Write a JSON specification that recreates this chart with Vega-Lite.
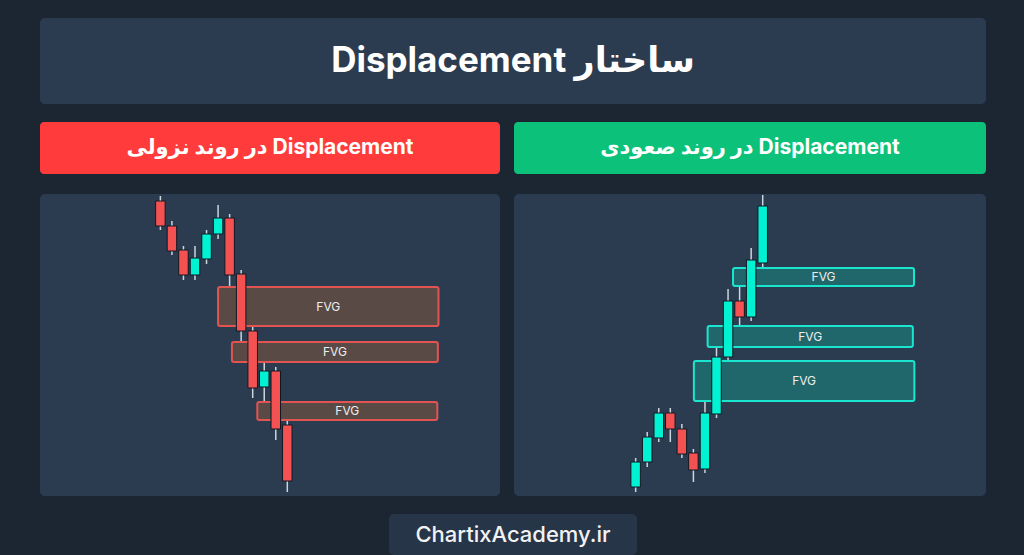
{
  "$schema": "https://vega.github.io/schema/vega-lite/v6.json",
  "background": "#1c2633",
  "padding": {"left": 40, "top": 18, "right": 38, "bottom": 0},
  "config": {
    "view": {"stroke": null, "fill": "#2b3c51", "cornerRadius": 5},
    "concat": {"spacing": 18}
  },
  "datasets": {
    "candlesL": [
      {"t": 0, "o": 295, "c": 270, "h": 300, "l": 266},
      {"t": 1, "o": 270, "c": 245, "h": 275, "l": 241},
      {"t": 2, "o": 246, "c": 221, "h": 250, "l": 216},
      {"t": 3, "o": 221, "c": 238, "h": 250, "l": 216},
      {"t": 4, "o": 237, "c": 262, "h": 266, "l": 232},
      {"t": 5, "o": 262, "c": 278, "h": 291, "l": 257},
      {"t": 6, "o": 278, "c": 221, "h": 282, "l": 209},
      {"t": 7, "o": 222, "c": 165, "h": 226, "l": 154},
      {"t": 8, "o": 165, "c": 108, "h": 169, "l": 98},
      {"t": 9, "o": 109, "c": 125, "h": 134, "l": 94},
      {"t": 10, "o": 125, "c": 67, "h": 129, "l": 56},
      {"t": 11, "o": 71, "c": 15, "h": 75, "l": 4}
    ],
    "fvgL": [
      {"start": 5.0, "end": 24.1, "top": 209, "bottom": 170, "label": "FVG"},
      {"start": 6.2, "end": 24.05, "top": 154, "bottom": 134, "label": "FVG"},
      {"start": 8.4, "end": 24.0, "top": 94, "bottom": 76, "label": "FVG"}
    ],
    "candlesR": [
      {"t": 0, "o": 9, "c": 34, "h": 38, "l": 4},
      {"t": 1, "o": 34, "c": 59, "h": 64, "l": 29},
      {"t": 2, "o": 58, "c": 83, "h": 88, "l": 54},
      {"t": 3, "o": 83, "c": 67, "h": 88, "l": 54},
      {"t": 4, "o": 67, "c": 42, "h": 72, "l": 38},
      {"t": 5, "o": 43, "c": 26, "h": 47, "l": 14},
      {"t": 6, "o": 27, "c": 83, "h": 95, "l": 23},
      {"t": 7, "o": 82, "c": 139, "h": 150, "l": 78},
      {"t": 8, "o": 139, "c": 195, "h": 207, "l": 135},
      {"t": 9, "o": 195, "c": 179, "h": 210, "l": 171},
      {"t": 10, "o": 179, "c": 236, "h": 248, "l": 175},
      {"t": 11, "o": 233, "c": 290, "h": 301, "l": 229}
    ],
    "fvgR": [
      {"start": 8.43, "end": 24.1, "top": 228, "bottom": 210, "label": "FVG"},
      {"start": 6.23, "end": 24.0, "top": 170, "bottom": 149, "label": "FVG"},
      {"start": 5.04, "end": 24.13, "top": 135, "bottom": 95, "label": "FVG"}
    ]
  },
  "center": true,
  "vconcat": [
    {
      "width": 946,
      "height": 86,
      "view": {"fill": "#2b3c51", "stroke": null, "cornerRadius": 5},
      "data": {"values": [{"text": "Displacement ساختار"}]},
      "mark": {"type": "text", "fontSize": 35, "fontWeight": "bold", "color": "#ffffff", "font": "Inter, DejaVu Sans", "letterSpacing": 0.5},
      "encoding": {"text": {"field": "text"}}
    },
    {
      "spacing": 14,
      "hconcat": [
        {
          "spacing": 20,
          "vconcat": [
            {
              "width": 460,
              "height": 52,
              "view": {"fill": "#ff3b3b", "stroke": null, "cornerRadius": 4},
              "data": {"values": [{"text": "در روند نزولی Displacement"}]},
              "mark": {"type": "text", "fontSize": 21, "fontWeight": "bold", "color": "#ffffff", "font": "Inter, DejaVu Sans", "letterSpacing": 0.4},
              "encoding": {"text": {"field": "text"}}
            },
            {
              "width": 460,
              "height": 302,
              "layer": [
                {
                  "data": {"name": "candlesL"},
                  "mark": {"type": "rule", "color": "#cdd5dd", "strokeWidth": 1.5},
                  "encoding": {
                    "x": {"field": "t", "type": "quantitative", "scale": {"domain": [-10, 29], "nice": false, "zero": false}, "axis": null},
                    "y": {"field": "l", "type": "quantitative", "scale": {"domain": [0, 302], "nice": false, "zero": false}, "axis": null},
                    "y2": {"field": "h"}
                  }
                },
                {
                  "data": {"name": "fvgL"},
                  "mark": {"type": "rect", "fill": "#5a4a46", "stroke": "#e25452", "strokeWidth": 2, "cornerRadius": 2},
                  "encoding": {
                    "x": {"field": "start", "type": "quantitative", "axis": null},
                    "x2": {"field": "end"},
                    "y": {"field": "top", "type": "quantitative", "axis": null},
                    "y2": {"field": "bottom"}
                  }
                },
                {
                  "data": {"name": "fvgL"},
                  "transform": [
                    {"calculate": "(datum.start + datum.end) / 2", "as": "mx"},
                    {"calculate": "(datum.top + datum.bottom) / 2", "as": "my"}
                  ],
                  "mark": {"type": "text", "color": "#eeeeee", "fontSize": 12, "font": "Inter"},
                  "encoding": {
                    "x": {"field": "mx", "type": "quantitative", "axis": null},
                    "y": {"field": "my", "type": "quantitative", "axis": null},
                    "text": {"field": "label"}
                  }
                },
                {
                  "data": {"name": "candlesL"},
                  "mark": {"type": "bar", "size": 9.5, "stroke": "#101822", "strokeWidth": 1},
                  "encoding": {
                    "x": {"field": "t", "type": "quantitative", "axis": null},
                    "y": {"field": "o", "type": "quantitative", "axis": null},
                    "y2": {"field": "c"},
                    "fill": {"condition": {"test": "datum.c > datum.o", "value": "#00f2d2"}, "value": "#f45252"}
                  }
                }
              ]
            }
          ]
        },
        {
          "spacing": 20,
          "vconcat": [
            {
              "width": 472,
              "height": 52,
              "view": {"fill": "#0cc27a", "stroke": null, "cornerRadius": 4},
              "data": {"values": [{"text": "در روند صعودی Displacement"}]},
              "mark": {"type": "text", "fontSize": 21, "fontWeight": "bold", "color": "#ffffff", "font": "Inter, DejaVu Sans", "letterSpacing": 0.4},
              "encoding": {"text": {"field": "text"}}
            },
            {
              "width": 472,
              "height": 302,
              "layer": [
                {
                  "data": {"name": "candlesR"},
                  "mark": {"type": "rule", "color": "#cdd5dd", "strokeWidth": 1.5},
                  "encoding": {
                    "x": {"field": "t", "type": "quantitative", "scale": {"domain": [-10.1, 29.9], "nice": false, "zero": false}, "axis": null},
                    "y": {"field": "l", "type": "quantitative", "scale": {"domain": [0, 302], "nice": false, "zero": false}, "axis": null},
                    "y2": {"field": "h"}
                  }
                },
                {
                  "data": {"name": "fvgR"},
                  "mark": {"type": "rect", "fill": "#20676b", "stroke": "#1ae6d0", "strokeWidth": 2, "cornerRadius": 2},
                  "encoding": {
                    "x": {"field": "start", "type": "quantitative", "axis": null},
                    "x2": {"field": "end"},
                    "y": {"field": "top", "type": "quantitative", "axis": null},
                    "y2": {"field": "bottom"}
                  }
                },
                {
                  "data": {"name": "fvgR"},
                  "transform": [
                    {"calculate": "(datum.start + datum.end) / 2", "as": "mx"},
                    {"calculate": "(datum.top + datum.bottom) / 2", "as": "my"}
                  ],
                  "mark": {"type": "text", "color": "#eeeeee", "fontSize": 12, "font": "Inter"},
                  "encoding": {
                    "x": {"field": "mx", "type": "quantitative", "axis": null},
                    "y": {"field": "my", "type": "quantitative", "axis": null},
                    "text": {"field": "label"}
                  }
                },
                {
                  "data": {"name": "candlesR"},
                  "mark": {"type": "bar", "size": 9.5, "stroke": "#101822", "strokeWidth": 1},
                  "encoding": {
                    "x": {"field": "t", "type": "quantitative", "axis": null},
                    "y": {"field": "o", "type": "quantitative", "axis": null},
                    "y2": {"field": "c"},
                    "fill": {"condition": {"test": "datum.c > datum.o", "value": "#00f2d2"}, "value": "#f45252"}
                  }
                }
              ]
            }
          ]
        }
      ]
    },
    {
      "width": 248,
      "height": 41,
      "view": {"fill": "#263548", "stroke": null, "cornerRadius": 5},
      "data": {"values": [{"text": "ChartixAcademy.ir"}]},
      "mark": {"type": "text", "fontSize": 22, "fontWeight": 500, "color": "#f2f2f2", "font": "Inter", "letterSpacing": 2.2},
      "encoding": {"text": {"field": "text"}}
    }
  ]
}
